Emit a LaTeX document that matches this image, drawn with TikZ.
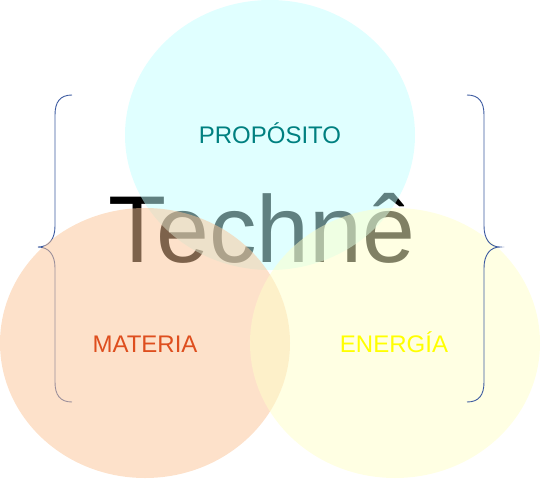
\documentclass[tikz,border=0pt]{standalone}
\usepackage{fontspec}
\setmainfont{Liberation Sans}
\definecolor{cyanfill}{RGB}{193,255,255}
\definecolor{peachfill}{RGB}{251,196,150}
\definecolor{yellowfill}{RGB}{255,255,200}
\definecolor{bracecol}{RGB}{60,90,160}
\definecolor{tealtext}{RGB}{0,128,128}
\definecolor{orangetext}{RGB}{222,78,30}
\definecolor{yellowtext}{RGB}{255,255,0}
\tikzset{
  venn/.style={fill opacity=0.5, draw=none},
  label/.style={inner sep=0pt, anchor=base, font=\fontsize{24}{28}\selectfont},
  bracepath/.style={draw=bracecol, line width=0.9pt},
}
\begin{document}
\begin{tikzpicture}[x=1pt,y=-1pt]
\useasboundingbox (0,0) rectangle (541,480);
% title text below circles
\node[inner sep=0pt, anchor=base, font=\fontsize{95}{104}\selectfont, text=black] (title) at (262,262) {Technê};
% left brace (under the circles)
\coordinate (lbtop) at (72,95);
\coordinate (lbtip) at (38,247);
\coordinate (lbbot) at (72,402);
\path[bracepath] (lbtop) .. controls (60,95) and (55,102) .. (55,115) -- (55,226)
  .. controls (55,239) and (49,247) .. (lbtip)
  .. controls (49,247) and (55,255) .. (55,268) -- (55,382)
  .. controls (55,395) and (60,402) .. (lbbot);
% circles
\fill[venn, cyanfill] (270,135) ellipse [x radius=145, y radius=135];
\fill[venn, peachfill] (145,343) ellipse [x radius=145, y radius=135];
\fill[venn, yellowfill] (395,343) ellipse [x radius=145, y radius=135];
% right brace (over the circles)
\coordinate (rbtop) at (467,95);
\coordinate (rbtip) at (500,247);
\coordinate (rbbot) at (467,402);
\path[bracepath] (rbtop) .. controls (479,95) and (484,102) .. (484,115) -- (484,226)
  .. controls (484,239) and (490,247) .. (rbtip)
  .. controls (490,247) and (484,255) .. (484,268) -- (484,382)
  .. controls (484,395) and (479,402) .. (rbbot);
% labels
\node[label, text=tealtext] (proposito) at (270,143) {PROPÓSITO};
\node[label, text=orangetext] (materia) at (145,352) {MATERIA};
\node[label, text=yellowtext] (energia) at (394,352) {ENERGÍA};
\end{tikzpicture}
\end{document}
